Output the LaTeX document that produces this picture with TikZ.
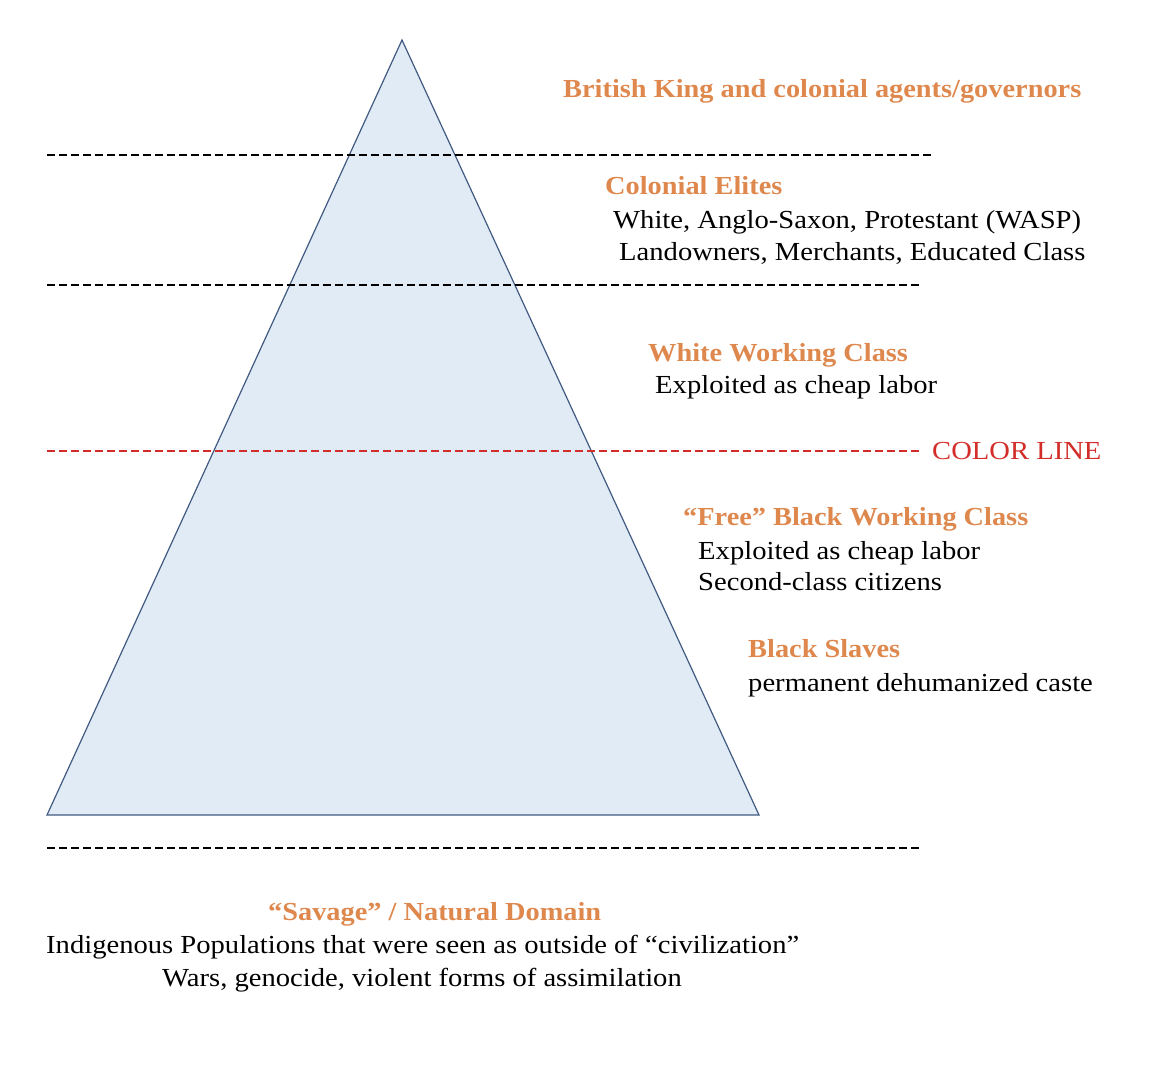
\documentclass[tikz,border=0pt]{standalone}
\usepackage{fontspec}
\setmainfont{Liberation Serif}
\definecolor{orng}{RGB}{222,136,78}
\definecolor{redl}{RGB}{210,45,40}
\definecolor{tri}{RGB}{225,235,245}
\definecolor{triedge}{RGB}{65,90,130}
\begin{document}
\begin{tikzpicture}[x=1pt,y=-1pt,
  dl/.style={black,line width=1.3pt,dash pattern=on 8pt off 4pt},
  hd/.style={anchor=base west,inner sep=0,text=orng,font=\fontsize{26}{30}\selectfont\bfseries,xscale=1.09},
  tx/.style={anchor=base west,inner sep=0,font=\fontsize{26}{30}\selectfont,xscale=1.1}]
\useasboundingbox (0,0) rectangle (1150,1065);
\coordinate (apex) at (402,40);
\coordinate (bl) at (47,815);
\coordinate (br) at (759,815);
\draw[fill=tri,draw=triedge,line width=1.2pt] (apex) -- (bl) -- (br) -- cycle;
\coordinate (d1a) at (47,155); \coordinate (d1b) at (932,155);
\coordinate (d2a) at (47,285); \coordinate (d2b) at (922,285);
\coordinate (d3a) at (47,451); \coordinate (d3b) at (920,451);
\coordinate (d4a) at (47,848); \coordinate (d4b) at (922,848);
\draw[dl] (d1a) -- (d1b);
\draw[dl] (d2a) -- (d2b);
\draw[dl,redl] (d3a) -- (d3b);
\draw[dl] (d4a) -- (d4b);
\node[hd] (t1) at (563,97) {British King and colonial agents/governors};
\node[hd] (t2) at (605,194) {Colonial Elites};
\node[tx] (t3) at (613,228) {White, Anglo-Saxon, Protestant (WASP)};
\node[tx] (t4) at (619,260) {Landowners, Merchants, Educated Class};
\node[hd] (t5) at (648,361) {White Working Class};
\node[tx] (t6) at (655,393) {Exploited as cheap labor};
\node[tx,text=redl] (cl) at (932,459) {COLOR LINE};
\node[hd] (t7) at (683,525) {“Free” Black Working Class};
\node[tx] (t8) at (698,559) {Exploited as cheap labor};
\node[tx] (t9) at (698,590) {Second-class citizens};
\node[hd] (t10) at (748,657) {Black Slaves};
\node[tx] (t11) at (748,691) {permanent dehumanized caste};
\node[hd] (t12) at (268,920) {“Savage” / Natural Domain};
\node[tx] (t13) at (46,953) {Indigenous Populations that were seen as outside of “civilization”};
\node[tx] (t14) at (162,986) {Wars, genocide, violent forms of assimilation};
\end{tikzpicture}
\end{document}
